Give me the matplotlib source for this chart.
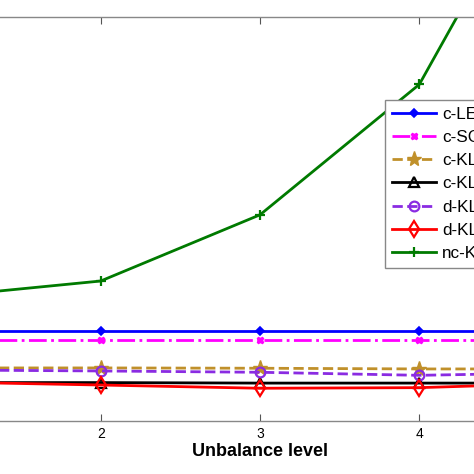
import matplotlib
matplotlib.use("Agg")
import matplotlib.pyplot as plt

plt.rcParams['font.family'] = ['Liberation Sans', 'DejaVu Sans']

levels = [1, 2, 3, 4, 5]
labels = ["c-LEML", "c-SCML", "c-KLML", "c-KLMM", "d-KLML", "d-KLMM", "nc-KLML"]
c_le = [8.9, 8.9, 8.9, 8.9, 8.9]
c_sc = [8.0, 8.0, 8.0, 8.0, 8.0]
c_kl1 = [5.25, 5.25, 5.22, 5.15, 5.15]
c_kl2 = [3.8, 3.8, 3.75, 3.75, 3.75]
d_kl1 = [5.05, 4.95, 4.82, 4.52, 4.8]
d_kl2 = [3.86, 3.56, 3.24, 3.3, 3.78]
nc_kl = [12.3, 13.85, 20.4, 33.3, 61.5]
series = [c_le, c_sc, c_kl1, c_kl2, d_kl1, d_kl2, nc_kl]
xticks_shown = [2, 3, 4]

styles = [
    dict(color='#0000ff', ls='-', marker='D', ms=4.5, mfc='#0000ff', mew=1.2),
    dict(color='#ff00ff', ls='-.', marker='X', ms=4.5, mfc='#ff00ff', mew=1.0),
    dict(color='#c0902a', ls='--', marker='*', ms=11, mfc='#c0902a', mew=1.0),
    dict(color='#000000', ls='-', marker='^', ms=7, mfc='none', mew=1.6),
    dict(color='#8a2be2', ls='--', marker='o', ms=7, mfc='none', mew=1.6),
    dict(color='#ff0000', ls='-', marker='d', ms=8, mfc='none', mew=1.6),
    dict(color='#007a00', ls='-', marker='+', ms=7, mfc='none', mew=1.6),
]

fig = plt.figure(figsize=(4.74, 4.74), dpi=100)
W = 474.0
ax = fig.add_axes([-58.6 / W, 1 - 421 / W, 637.2 / W, 404.3 / W])
for ys, lab, st in zip(series, labels, styles):
    ax.plot(levels, ys, label=lab, lw=2, color=st['color'], ls=st['ls'],
            marker=st['marker'], ms=st['ms'], mfc=st['mfc'], mec=st['color'],
            mew=st['mew'])

ax.set_xlim(1, 5)
ax.set_ylim(0, 40)
ax.set_xticks(xticks_shown)
ax.set_yticks([0, 10, 20, 30, 40])
ax.tick_params(direction='in', top=True, right=True, length=5, width=0.8,
               color='#555555', labelsize=10, pad=4)
ax.tick_params(axis='y', labelleft=False)
for sp in ax.spines.values():
    sp.set_color('#888888')
    sp.set_linewidth(1.0)
ax.set_xlabel('Unbalance level', fontsize=13, fontweight='bold', labelpad=2)

leg = ax.legend(loc='upper left', bbox_to_anchor=(385 / W, 1 - 100 / W),
                bbox_transform=fig.transFigure, borderaxespad=0, fontsize=12.3,
                handlelength=2.6, handletextpad=0.33, labelspacing=0.48,
                borderpad=0.4, fancybox=False, framealpha=1)
leg.get_frame().set_edgecolor('#888888')
leg.get_frame().set_linewidth(1.0)

fig.savefig('out.png', dpi=100)
